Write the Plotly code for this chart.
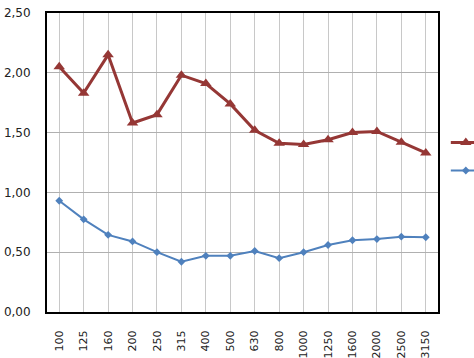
import plotly.graph_objects as go

freqs = ["100", "125", "160", "200", "250", "315", "400", "500", "630", "800",
         "1000", "1250", "1600", "2000", "2500", "3150"]
series_red = [2.05, 1.83, 2.15, 1.58, 1.65, 1.98, 1.91, 1.74, 1.52, 1.41,
              1.40, 1.44, 1.50, 1.51, 1.42, 1.33]
series_blue = [0.93, 0.775, 0.645, 0.59, 0.50, 0.42, 0.47, 0.47, 0.51, 0.45,
               0.50, 0.56, 0.60, 0.61, 0.63, 0.625]

fig = go.Figure()
fig.add_trace(go.Scatter(x=freqs, y=series_red, mode="lines+markers", name="",
                         legendgroup="a",
                         line=dict(color="#953735", width=3),
                         marker=dict(symbol="triangle-up", size=10, color="#953735")))
fig.add_trace(go.Scatter(x=freqs, y=series_blue, mode="lines+markers", name="",
                         legendgroup="b",
                         line=dict(color="#4F81BD", width=2),
                         marker=dict(symbol="diamond", size=6, color="#4F81BD")))

fig.update_layout(
    width=474, height=358,
    margin=dict(l=47, r=36, t=13, b=46, autoexpand=False),
    paper_bgcolor="white", plot_bgcolor="white",
    separators=",.",
    font=dict(family="DejaVu Sans", size=12, color="#222222"),
    showlegend=True,
    legend=dict(x=1.02, y=0.52, xanchor="left", yanchor="middle",
                bgcolor="rgba(0,0,0,0)", tracegroupgap=9, traceorder="grouped",
                font=dict(size=12)),
)
fig.update_xaxes(type="category", range=[-0.5, 15.5], autorange=False,
                 showgrid=True, gridcolor="#c8c8c8", gridwidth=1,
                 showline=True, linecolor="black", linewidth=2, mirror=True,
                 tickangle=-90, ticks="", ticklabelstandoff=12,
                 tickfont=dict(size=11))
fig.update_yaxes(range=[0, 2.5], autorange=False, dtick=0.5, tickformat=".2f",
                 showgrid=True, gridcolor="#b0b0b0", gridwidth=1,
                 showline=True, linecolor="black", linewidth=2, mirror=True,
                 zeroline=False, ticks="", ticklabelstandoff=12,
                 tickfont=dict(size=12))

fig.write_html("out.html", config={"displayModeBar": False},
               post_script="document.body.style.margin='0';")
